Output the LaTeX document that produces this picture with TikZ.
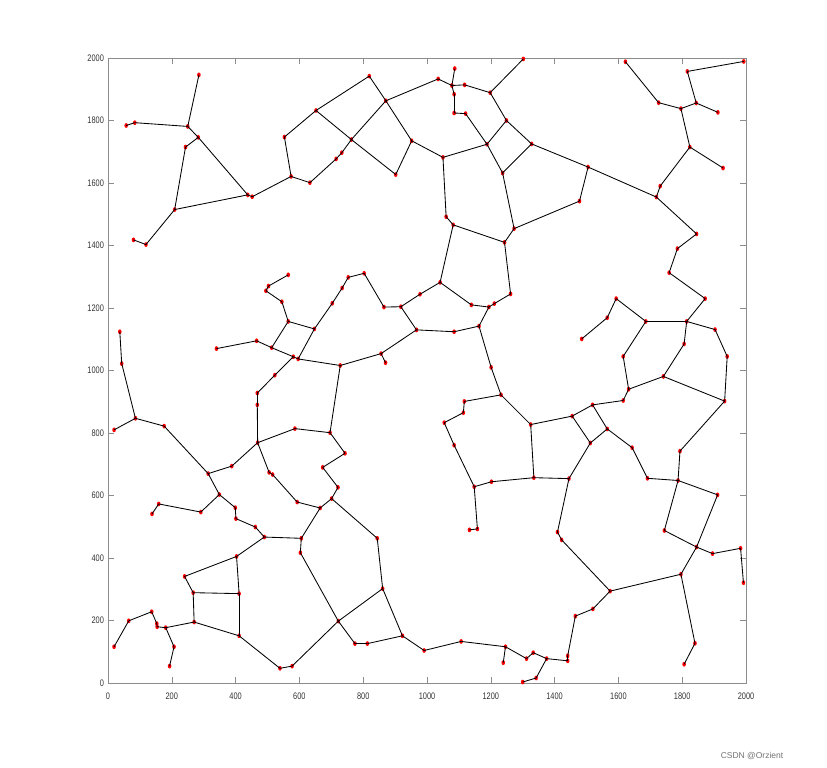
\documentclass[tikz,border=0pt]{standalone}
\usepackage{fontspec}
\setmainfont{Liberation Sans}
\usetikzlibrary{shapes.geometric}
\newcommand{\ticklab}[1]{\scalebox{0.78}[1]{#1}}
\tikzset{
  pt/.style={ellipse, fill=red, draw=none, inner sep=0pt, minimum width=3.6pt, minimum height=4.8pt},
  edge/.style={draw=black, line width=0.85pt},
  axis/.style={draw=black!45, line width=0.8pt},
  tick/.style={draw=black!45, line width=0.6pt},
  lab/.style={font=\fontsize{9.5}{10}\selectfont, text=black!80, inner sep=0pt},
}
\begin{document}
\begin{tikzpicture}[x=1pt,y=1pt]
\useasboundingbox (0,0) rectangle (827,768);
\node[font=\fontsize{8.5}{9}\selectfont, text=black!55, inner sep=0pt] (wm) at (752,12) {CSDN @Orzient};
\begin{scope}[shift={(108,85)}, x=0.319pt, y=0.3125pt]
  % axes box
  \draw[axis] (0,0) rectangle (2000,2000);
  \foreach \v in {0,200,...,2000} {
    \draw[tick] (\v,0) -- ++(0,20);
    \draw[tick] (\v,2000) -- ++(0,-20);
    \draw[tick] (0,\v) -- ++(20,0);
    \draw[tick] (2000,\v) -- ++(-20,0);
    \node[lab, anchor=north] (xl\v) at (\v,-32) {\ticklab{\v}};
    \node[lab, anchor=east] (yl\v) at (-12,\v) {\ticklab{\v}};
  }
  % points
  \foreach \n/\x/\y in {
    a1/285/1946, a2/250/1781, a3/84/1793, a4/57/1784, a5/283/1746, a6/243/1715,
    a7/209/1515, a8/438/1562, a9/452/1556, a10/574/1621, a11/633/1601, a12/553/1747,
    a13/652/1832, a14/80/1418, a15/119/1403,
    b1/819/1942, b2/871/1863, b3/763/1739, b4/733/1697, b5/715/1677, b6/902/1627,
    b7/952/1735, b8/1035/1933, b9/1087/1966, b10/1078/1912, b11/1118/1914, b12/1085/1884,
    b13/1085/1824, b14/1121/1822, b15/1198/1889, b16/1302/1997, b17/1249/1800,
    b18/1188/1724, b19/1050/1682, b20/1237/1632, b21/1328/1725, b22/1060/1492,
    b23/1082/1466, b24/1243/1410, b25/1273/1454, b26/1505/1651, b27/1478/1542,
    c1/1622/1988, c2/1726/1857, c3/1796/1838, c4/1844/1856, c5/1912/1826, c6/1816/1957,
    c7/1993/1989, c8/1824/1715, c9/1928/1648, c10/1731/1590, c11/1719/1555,
    c12/1845/1437, c13/1785/1390, c14/1759/1313,
    d1/1872/1230, d2/1814/1157, d3/1686/1157, d4/1593/1230, d5/1565/1169, d6/1485/1101,
    d7/1903/1131, d8/1941/1045, d9/1933/902, d10/1806/1085, d11/1741/981, d12/1615/1045,
    d13/1632/940, d14/1615/904, d15/1519/890, d16/1455/854, d17/1325/827, d18/1565/813,
    d19/1512/768, d20/1643/753, d21/1691/655, d22/1787/648, d23/1793/742, d24/1335/657,
    d25/1445/654,
    e1/1041/1282, e2/978/1244, e3/918/1204, e4/865/1203, e5/803/1311, e6/753/1298,
    e7/734/1264, e8/703/1215, e9/647/1133, e10/967/1130, e11/1085/1124, e12/1163/1142,
    e13/1194/1203, e14/1211/1214, e15/1139/1210, e16/1262/1245, e17/856/1054,
    e18/870/1025, e19/728/1016, e20/696/801, e21/743/735, e22/673/690, e23/1201/1010,
    e24/1232/922, e25/1117/901, e26/1114/865, e27/1054/833, e28/1085/761,
    f1/565/1306, f2/503/1270, f3/495/1255, f4/545/1220, f5/565/1157, f6/466/1095,
    f7/340/1070, f8/513/1073, f9/581/1044, f10/596/1037, f11/523/985, f12/468/928,
    f13/468/890, f14/469/769, f15/586/814, f16/505/674, f17/516/667, f18/388/694,
    f19/314/670, f20/176/822, f21/86/847, f22/19/810, f23/43/1022, f24/37/1124,
    g1/349/603, g2/399/561, g3/401/526, g4/462/499, g5/490/467, g6/606/463, g7/603/417,
    g8/593/579, g9/665/560, g10/701/590, g11/721/626, g12/159/573, g13/138/541,
    g14/291/547, g15/403/405, g16/240/341, g17/267/289, g18/411/286, g19/270/195,
    g20/411/151, g21/539/47, g22/577/54, g23/137/228, g24/65/199, g25/19/116,
    g26/153/190, g27/154/180, g28/181/177, g29/207/116, g30/193/54,
    h1/844/463, h2/861/302, h3/722/198, h4/774/126, h5/813/126, h6/923/151, h7/991/104,
    h8/1107/133, h9/1246/116, h10/1239/65, h11/1312/78, h12/1300/3, h13/1148/628,
    h14/1202/644, h15/1158/493, h16/1133/490,
    i1/1409/483, i2/1422/458, i3/1574/294, i4/1520/237, i5/1465/214, i6/1441/87,
    i7/1441/71, i8/1375/78, i9/1333/97, i10/1342/16, i11/1911/602, i12/1744/488,
    i13/1845/435, i14/1895/414, i15/1983/431, i16/1992/321, i17/1796/348,
    i18/1840/127, i19/1806/60}
    \node[pt] (\n) at (\x,\y) {};
  % connectors
  \foreach \p/\q in {
    a1/a2, a2/a3, a3/a4, a2/a5, a5/a6, a6/a7, a5/a8, a7/a8, a8/a9, a9/a10, a10/a12,
    a12/a13, a10/a11, a7/a15, a15/a14,
    a13/b1, b1/b2, a13/b3, b3/b6, b2/b3, b3/b4, b4/b5, b5/a11, b2/b7, b7/b6, b7/b19,
    b2/b8, b8/b10, b10/b9, b10/b11, b11/b15, b10/b12, b12/b13, b13/b14, b14/b18,
    b15/b16, b15/b17, b17/b18, b17/b21, b18/b19, b18/b20, b20/b21, b19/b22, b22/b23,
    b23/b24, b20/b25, b25/b24, b25/b27, b21/b26, b26/b27,
    c1/c2, c2/c3, c3/c4, c4/c5, c4/c6, c6/c7, c3/c8, c8/c9, c8/c10, c10/c11, c11/b26,
    c11/c12, c12/c13, c13/c14, c14/d1,
    d1/d2, d2/d3, d3/d4, d4/d5, d5/d6, d2/d7, d7/d8, d8/d9, d2/d10, d10/d11, d11/d13,
    d11/d9, d3/d12, d12/d13, d13/d14, d14/d15, d15/d16, d16/d17, d16/d19, d15/d18,
    d18/d19, d18/d20, d20/d21, d19/d25, d17/d24, d24/d25, d9/d23, d23/d22, d21/d22,
    b23/e1, e1/e2, e2/e3, e3/e4, e4/e5, e5/e6, e6/e7, e7/e8, e8/e9, e1/e15, e15/e13,
    e13/e14, e14/e16, e16/b24, e13/e12, e12/e11, e11/e10, e10/e3, e10/e17, e17/e18,
    e17/e19, e19/f10, e19/e20, e20/e21, e21/e22, e20/f15, e12/e23, e23/e24, e24/e25,
    e25/e26, e26/e27, e27/e28, e28/h13, e24/d17,
    f1/f2, f2/f3, f3/f4, f4/f5, f5/e9, f5/f8, e9/f10, f7/f6, f6/f8, f8/f9, f9/f10,
    f9/f11, f11/f12, f12/f13, f13/f14, f14/f15, f14/f18, f18/f19, f14/f16, f16/f17,
    f19/f20, f20/f21, f21/f22, f21/f23, f23/f24,
    f19/g1, g1/g2, g2/g3, g3/g4, g4/g5, g1/g14, g14/g12, g12/g13, g5/g6, g6/g9,
    f17/g8, g8/g9, g9/g10, g10/g11, g11/e22, g10/h1, g6/g7, g7/h3, g5/g15, g15/g16,
    g16/g17, g17/g19, g17/g18, g15/g18, g18/g20, g19/g20, g20/g21, g21/g22, g22/h3,
    g19/g28, g28/g27, g27/g26, g26/g23, g23/g24, g24/g25, g28/g29, g29/g30,
    h1/h2, h2/h3, h2/h6, h3/h4, h4/h5, h5/h6, h6/h7, h7/h8, h8/h9, h9/h10, h9/h11,
    h13/h14, h14/d24, h13/h15, h15/h16, h12/i10,
    d25/i1, i1/i2, i2/i3, i3/i4, i4/i5, i5/i6, i6/i7, i7/i8, i8/i9, i9/h11, i8/i10,
    i3/i17, i17/i18, i18/i19, i17/i13, i13/i12, i12/d22, i13/i11, d22/i11, i13/i14,
    i14/i15, i15/i16}
    \draw[edge] (\p.center) -- (\q.center);
\end{scope}
\end{tikzpicture}
\end{document}
